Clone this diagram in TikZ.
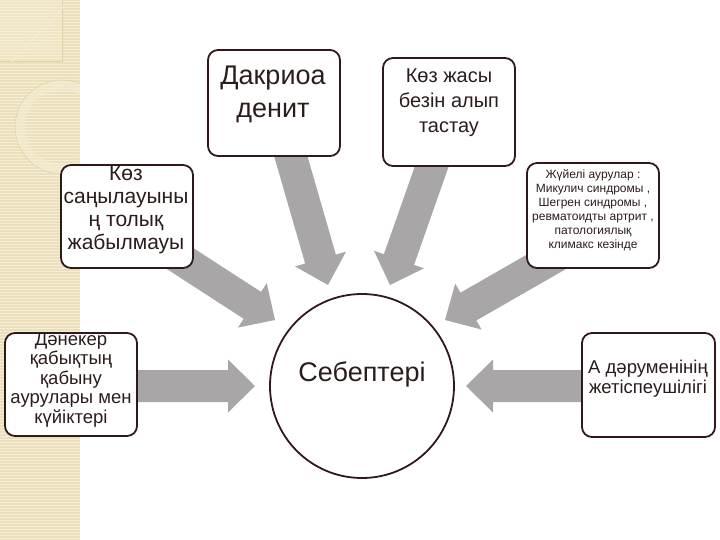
\documentclass[tikz,border=0pt]{standalone}
\usepackage{fontspec}
\setmainfont{Liberation Sans}
\usetikzlibrary{calc}
\pgfdeclarelayer{bg}
\pgfsetlayers{bg,main}
\definecolor{ink}{RGB}{45,28,28}
\definecolor{edge}{RGB}{50,25,25}
\definecolor{arrowgray}{RGB}{168,166,166}
\definecolor{stripbg}{RGB}{236,224,188}
\definecolor{stripline}{RGB}{246,238,214}
\definecolor{deco}{RGB}{226,210,165}
\definecolor{decolight}{RGB}{244,236,210}
\newcommand{\blockarrow}[2]{%
  \path (#1) coordinate (ba-s) (#2) coordinate (ba-t);
  \path ($(ba-t)!27pt!(ba-s)$) coordinate (ba-h);
  \fill[arrowgray] ($(ba-s)!16pt!90:(ba-t)$) -- ($(ba-h)!16pt!-90:(ba-s)$)
    -- ($(ba-h)!26.5pt!-90:(ba-s)$) -- (ba-t) -- ($(ba-h)!26.5pt!90:(ba-s)$)
    -- ($(ba-h)!16pt!90:(ba-s)$) -- ($(ba-s)!16pt!-90:(ba-t)$) -- cycle;}
\begin{document}
\begin{tikzpicture}[x=1pt,y=-1pt,
  box/.style={draw=edge,line width=1.8pt,rounded corners=10pt,fill=white,inner sep=0pt},
  txt/.style={text=ink,align=center,inner sep=0pt}]
\useasboundingbox (0,0) rectangle (720,540);
% decorative strip
\begin{scope}
  \clip (0,0) rectangle (80,540);
  \fill[stripbg] (0,0) rectangle (80,540);
  \foreach \yy in {1.5,4.5,...,540} \draw[stripline,line width=1pt] (0,\yy) -- (80,\yy);
  \fill[decolight,opacity=0.4] (0,0) rectangle (62,62);
  \draw[deco,line width=1pt] (62,0) -- (62,62) -- (0,62);
  \draw[decolight,line width=1.2pt] (64,6) .. controls (45,30) and (25,45) .. (12,62);
  \fill[decolight,opacity=0.55,even odd rule] (62,127) circle (47) (62,127) circle (37);
  \draw[deco,line width=0.6pt] (62,127) circle (47);
\end{scope}
% boxes
\node[box,minimum width=132pt,minimum height=106pt] (b1) at (274,103) {};
\node[box,minimum width=132pt,minimum height=108pt] (b2) at (449,112) {};
\node[box,minimum width=132pt,minimum height=103pt] (b3) at (127,216.5) {};
\node[box,minimum width=132pt,minimum height=105pt] (b4) at (593,215.5) {};
\node[box,minimum width=132pt,minimum height=103pt] (b5) at (71,384.5) {};
\node[box,minimum width=133pt,minimum height=104pt] (b6) at (648.5,385) {};
\node[circle,draw=edge,line width=1.8pt,fill=white,minimum size=184pt,inner sep=0pt] (c) at (362,386) {};
% texts
\node[txt,font={\fontsize{27}{33}\selectfont}] (t1) at (273,94) {Дакриоа\\денит};
\node[txt,font={\fontsize{20}{25}\selectfont}] (t2) at (449,103) {Көз жасы\\безін алып\\тастау};
\node[txt,font={\fontsize{21}{23}\selectfont}] (t3) at (126,210) {Көз\\саңылауыны\\ң толық\\жабылмауы};
\node[txt,font={\fontsize{12}{14}\selectfont}] (t4) at (593,210) {Жүйелі аурулар :\\Микулич синдромы ,\\Шегрен синдромы ,\\ревматоидты артрит ,\\патологиялық\\климакс кезінде};
\node[txt,font={\fontsize{18.5}{19.5}\selectfont}] (t5) at (71,380) {Дәнекер\\қабықтың\\қабыну\\аурулары мен\\күйіктері};
\node[txt,font={\fontsize{18.5}{20}\selectfont}] (t6) at (648,379) {А дәруменінің\\жетіспеушілігі};
\node[txt,font={\fontsize{27}{32}\selectfont}] (tc) at (362,374) {Себептері};
% arrows
\coordinate (a1s) at (289,150); \coordinate (a1t) at (328,285);
\coordinate (a2s) at (434,160); \coordinate (a2t) at (390,285);
\coordinate (a3s) at (170,252); \coordinate (a3t) at (275,320);
\coordinate (a4s) at (560,254); \coordinate (a4t) at (445,320);
\coordinate (a5s) at (130,386); \coordinate (a5t) at (255,386);
\coordinate (a6s) at (590,386); \coordinate (a6t) at (466,386);
\begin{pgfonlayer}{bg}
  \blockarrow{a1s}{a1t}
  \blockarrow{a2s}{a2t}
  \blockarrow{a3s}{a3t}
  \blockarrow{a4s}{a4t}
  \blockarrow{a5s}{a5t}
  \blockarrow{a6s}{a6t}
\end{pgfonlayer}
\end{tikzpicture}
\end{document}
